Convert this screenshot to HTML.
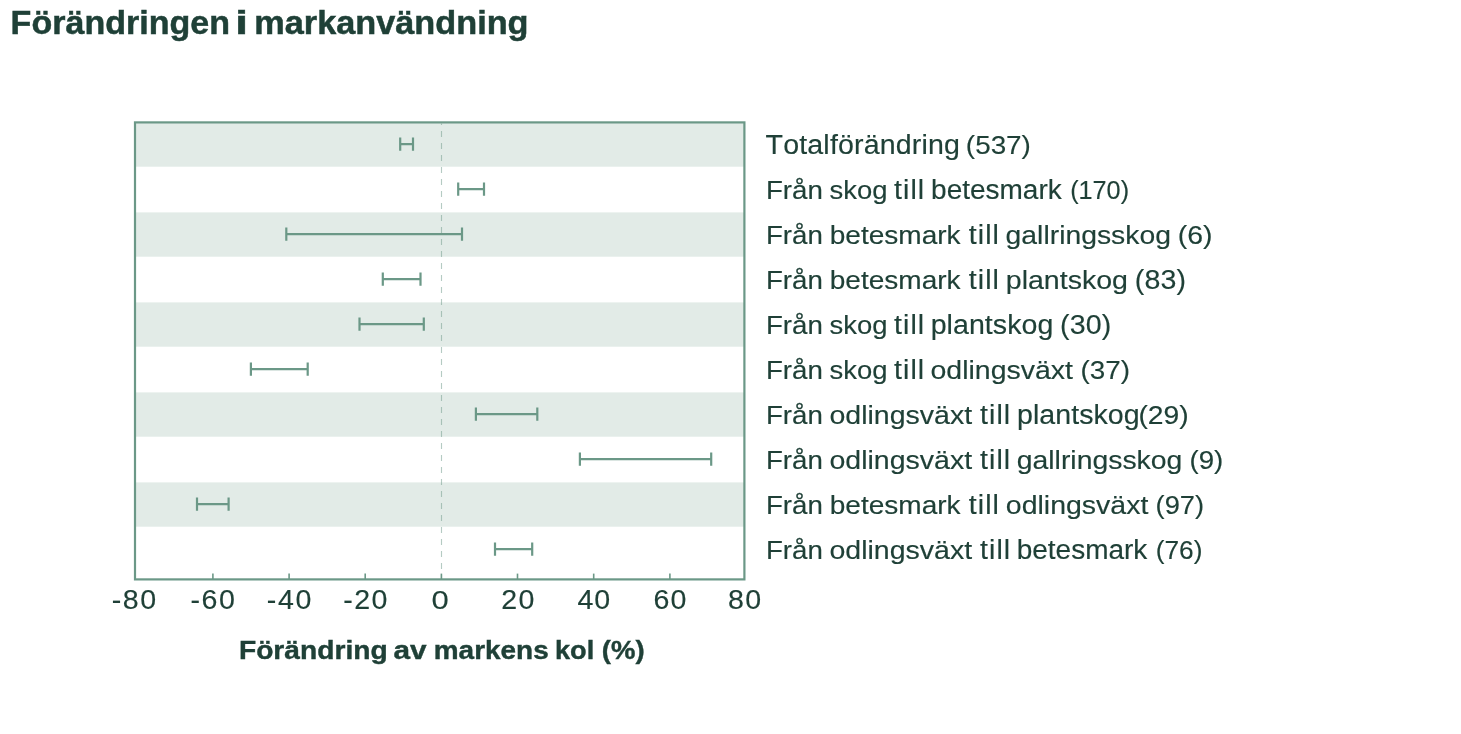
<!DOCTYPE html>
<html lang="sv"><head><meta charset="utf-8"><title>Förändringen i markanvändning</title>
<style>html,body{margin:0;padding:0;background:#fff}svg{display:block}text{font-family:"Liberation Sans",sans-serif;fill:#1f4037;font-kerning:none;white-space:pre}</style></head><body>
<svg width="1461" height="734" viewBox="0 0 1461 734">
<rect width="1461" height="734" fill="#fff"/>
<g>
<text transform="translate(10.62 33.8) scale(1.0042 1)" font-size="33.9" font-weight="700" stroke="#1f4037" stroke-width="0.5">Förändringen </text>
<text transform="translate(235.19 33.8) scale(1.3545 1)" font-size="33.9" font-weight="700" stroke="#1f4037" stroke-width="0.5">i </text>
<text transform="translate(254.34 33.8) scale(1.0110 1)" font-size="33.9" font-weight="700" stroke="#1f4037" stroke-width="0.5">markanvändning </text>
</g>
<rect x="135" y="122.4" width="609.5" height="44.3" fill="#e2ebe7"/>
<rect x="135" y="212.4" width="609.5" height="44.3" fill="#e2ebe7"/>
<rect x="135" y="302.4" width="609.5" height="44.3" fill="#e2ebe7"/>
<rect x="135" y="392.4" width="609.5" height="44.3" fill="#e2ebe7"/>
<rect x="135" y="482.4" width="609.5" height="44.3" fill="#e2ebe7"/>
<line x1="441.5" y1="123.5" x2="441.5" y2="578.5" stroke="#6b9887" stroke-opacity="0.5" stroke-width="1.1" stroke-dasharray="6 6" stroke-dashoffset="4.5"/>
<line x1="212.9" y1="573.6" x2="212.9" y2="579" stroke="#6b9887" stroke-width="1.6"/>
<line x1="289.1" y1="573.6" x2="289.1" y2="579" stroke="#6b9887" stroke-width="1.6"/>
<line x1="365.2" y1="573.6" x2="365.2" y2="579" stroke="#6b9887" stroke-width="1.6"/>
<line x1="441.4" y1="573.6" x2="441.4" y2="579" stroke="#6b9887" stroke-width="1.6"/>
<line x1="517.5" y1="573.6" x2="517.5" y2="579" stroke="#6b9887" stroke-width="1.6"/>
<line x1="593.7" y1="573.6" x2="593.7" y2="579" stroke="#6b9887" stroke-width="1.6"/>
<line x1="669.9" y1="573.6" x2="669.9" y2="579" stroke="#6b9887" stroke-width="1.6"/>
<rect x="135" y="122.4" width="609.4" height="457" fill="none" stroke="#6b9887" stroke-width="2.2"/>
<path d="M400.2 137.6V150.8M413.0 137.6V150.8M400.2 144.2H413.0" fill="none" stroke="#6b9887" stroke-width="2.2"/>
<path d="M458.2 182.6V195.8M484.0 182.6V195.8M458.2 189.2H484.0" fill="none" stroke="#6b9887" stroke-width="2.2"/>
<path d="M286.3 227.6V240.8M462.0 227.6V240.8M286.3 234.2H462.0" fill="none" stroke="#6b9887" stroke-width="2.2"/>
<path d="M382.8 272.6V285.8M420.5 272.6V285.8M382.8 279.2H420.5" fill="none" stroke="#6b9887" stroke-width="2.2"/>
<path d="M359.5 317.6V330.8M423.8 317.6V330.8M359.5 324.2H423.8" fill="none" stroke="#6b9887" stroke-width="2.2"/>
<path d="M250.9 362.6V375.8M307.7 362.6V375.8M250.9 369.2H307.7" fill="none" stroke="#6b9887" stroke-width="2.2"/>
<path d="M475.9 407.6V420.8M537.3 407.6V420.8M475.9 414.2H537.3" fill="none" stroke="#6b9887" stroke-width="2.2"/>
<path d="M579.9 452.6V465.8M711.2 452.6V465.8M579.9 459.2H711.2" fill="none" stroke="#6b9887" stroke-width="2.2"/>
<path d="M197.0 497.6V510.8M228.6 497.6V510.8M197.0 504.2H228.6" fill="none" stroke="#6b9887" stroke-width="2.2"/>
<path d="M495.0 542.6V555.8M532.2 542.6V555.8M495.0 549.2H532.2" fill="none" stroke="#6b9887" stroke-width="2.2"/>
<g>
<text transform="translate(765.56 154.1) scale(1.0700 1)" font-size="26.7" letter-spacing="0.155" stroke="#1f4037" stroke-width="0.15">Totalförändring </text>
<text transform="translate(965.87 154.1) scale(1.0437 1)" font-size="26.7" stroke="#1f4037" stroke-width="0.15">(537) </text>
</g>
<g>
<text transform="translate(765.93 199.1) scale(1.0378 1)" font-size="26.7" stroke="#1f4037" stroke-width="0.15">Från </text>
<text transform="translate(829.54 199.1) scale(1.0272 1)" font-size="26.7" stroke="#1f4037" stroke-width="0.15">skog </text>
<text transform="translate(893.97 199.1) scale(1.0700 1)" font-size="26.7" letter-spacing="1.017" stroke="#1f4037" stroke-width="0.15">till </text>
<text transform="translate(931.10 199.1) scale(1.0483 1)" font-size="26.7" stroke="#1f4037" stroke-width="0.15">betesmark </text>
<text transform="translate(1070.13 199.1) scale(0.9455 1)" font-size="26.7" stroke="#1f4037" stroke-width="0.15">(170) </text>
</g>
<g>
<text transform="translate(765.93 244.1) scale(1.0378 1)" font-size="26.7" stroke="#1f4037" stroke-width="0.15">Från </text>
<text transform="translate(829.69 244.1) scale(1.0507 1)" font-size="26.7" stroke="#1f4037" stroke-width="0.15">betesmark </text>
<text transform="translate(968.77 244.1) scale(1.0700 1)" font-size="26.7" letter-spacing="0.986" stroke="#1f4037" stroke-width="0.15">till </text>
<text transform="translate(1005.61 244.1) scale(1.0615 1)" font-size="26.7" stroke="#1f4037" stroke-width="0.15">gallringsskog </text>
<text transform="translate(1177.84 244.1) scale(1.0641 1)" font-size="26.7" stroke="#1f4037" stroke-width="0.15">(6) </text>
</g>
<g>
<text transform="translate(765.93 289.1) scale(1.0378 1)" font-size="26.7" stroke="#1f4037" stroke-width="0.15">Från </text>
<text transform="translate(829.69 289.1) scale(1.0507 1)" font-size="26.7" stroke="#1f4037" stroke-width="0.15">betesmark </text>
<text transform="translate(968.77 289.1) scale(1.0700 1)" font-size="26.7" letter-spacing="0.986" stroke="#1f4037" stroke-width="0.15">till </text>
<text transform="translate(1005.76 289.1) scale(1.0699 1)" font-size="26.7" stroke="#1f4037" stroke-width="0.15">plantskog </text>
<text transform="translate(1134.83 289.1) scale(1.0700 1)" font-size="26.7" letter-spacing="0.105" stroke="#1f4037" stroke-width="0.15">(83) </text>
</g>
<g>
<text transform="translate(765.93 334.1) scale(1.0378 1)" font-size="26.7" stroke="#1f4037" stroke-width="0.15">Från </text>
<text transform="translate(829.54 334.1) scale(1.0272 1)" font-size="26.7" stroke="#1f4037" stroke-width="0.15">skog </text>
<text transform="translate(893.97 334.1) scale(1.0700 1)" font-size="26.7" letter-spacing="1.017" stroke="#1f4037" stroke-width="0.15">till </text>
<text transform="translate(930.66 334.1) scale(1.0700 1)" font-size="26.7" letter-spacing="0.045" stroke="#1f4037" stroke-width="0.15">plantskog </text>
<text transform="translate(1060.03 334.1) scale(1.0700 1)" font-size="26.7" letter-spacing="0.105" stroke="#1f4037" stroke-width="0.15">(30) </text>
</g>
<g>
<text transform="translate(765.93 379.1) scale(1.0378 1)" font-size="26.7" stroke="#1f4037" stroke-width="0.15">Från </text>
<text transform="translate(829.54 379.1) scale(1.0272 1)" font-size="26.7" stroke="#1f4037" stroke-width="0.15">skog </text>
<text transform="translate(893.97 379.1) scale(1.0700 1)" font-size="26.7" letter-spacing="1.017" stroke="#1f4037" stroke-width="0.15">till </text>
<text transform="translate(930.50 379.1) scale(1.0668 1)" font-size="26.7" stroke="#1f4037" stroke-width="0.15">odlingsväxt </text>
<text transform="translate(1080.58 379.1) scale(1.0414 1)" font-size="26.7" stroke="#1f4037" stroke-width="0.15">(37) </text>
</g>
<g>
<text transform="translate(765.93 424.1) scale(1.0378 1)" font-size="26.7" stroke="#1f4037" stroke-width="0.15">Från </text>
<text transform="translate(829.40 424.1) scale(1.0691 1)" font-size="26.7" stroke="#1f4037" stroke-width="0.15">odlingsväxt </text>
<text transform="translate(980.07 424.1) scale(1.0700 1)" font-size="26.7" letter-spacing="0.986" stroke="#1f4037" stroke-width="0.15">till </text>
<text transform="translate(1016.96 424.1) scale(1.0700 1)" font-size="26.7" letter-spacing="0.057" stroke="#1f4037" stroke-width="0.15">plantskog </text>
<text transform="translate(1138.45 424.1) scale(1.0595 1)" font-size="26.7" stroke="#1f4037" stroke-width="0.15">(29) </text>
</g>
<g>
<text transform="translate(765.93 469.1) scale(1.0378 1)" font-size="26.7" stroke="#1f4037" stroke-width="0.15">Från </text>
<text transform="translate(829.40 469.1) scale(1.0691 1)" font-size="26.7" stroke="#1f4037" stroke-width="0.15">odlingsväxt </text>
<text transform="translate(980.07 469.1) scale(1.0700 1)" font-size="26.7" letter-spacing="0.986" stroke="#1f4037" stroke-width="0.15">till </text>
<text transform="translate(1016.71 469.1) scale(1.0635 1)" font-size="26.7" stroke="#1f4037" stroke-width="0.15">gallringsskog </text>
<text transform="translate(1189.48 469.1) scale(1.0368 1)" font-size="26.7" stroke="#1f4037" stroke-width="0.15">(9) </text>
</g>
<g>
<text transform="translate(765.93 514.1) scale(1.0378 1)" font-size="26.7" stroke="#1f4037" stroke-width="0.15">Från </text>
<text transform="translate(829.69 514.1) scale(1.0507 1)" font-size="26.7" stroke="#1f4037" stroke-width="0.15">betesmark </text>
<text transform="translate(968.77 514.1) scale(1.0700 1)" font-size="26.7" letter-spacing="0.986" stroke="#1f4037" stroke-width="0.15">till </text>
<text transform="translate(1005.80 514.1) scale(1.0676 1)" font-size="26.7" stroke="#1f4037" stroke-width="0.15">odlingsväxt </text>
<text transform="translate(1155.61 514.1) scale(1.0211 1)" font-size="26.7" stroke="#1f4037" stroke-width="0.15">(97) </text>
</g>
<g>
<text transform="translate(765.93 559.1) scale(1.0378 1)" font-size="26.7" stroke="#1f4037" stroke-width="0.15">Från </text>
<text transform="translate(829.40 559.1) scale(1.0691 1)" font-size="26.7" stroke="#1f4037" stroke-width="0.15">odlingsväxt </text>
<text transform="translate(980.07 559.1) scale(1.0700 1)" font-size="26.7" letter-spacing="0.986" stroke="#1f4037" stroke-width="0.15">till </text>
<text transform="translate(1016.70 559.1) scale(1.0483 1)" font-size="26.7" stroke="#1f4037" stroke-width="0.15">betesmark </text>
<text transform="translate(1155.67 559.1) scale(0.9848 1)" font-size="26.7" stroke="#1f4037" stroke-width="0.15">(76) </text>
</g>
<g>
<text transform="translate(111.83 608.6) scale(1.0700 1)" font-size="26.7" letter-spacing="1.399" stroke="#1f4037" stroke-width="0.15">-80 </text>
<text transform="translate(190.43 608.6) scale(1.0700 1)" font-size="26.7" letter-spacing="1.539" stroke="#1f4037" stroke-width="0.15">-60 </text>
<text transform="translate(266.63 608.6) scale(1.0700 1)" font-size="26.7" letter-spacing="1.633" stroke="#1f4037" stroke-width="0.15">-40 </text>
<text transform="translate(343.23 608.6) scale(1.0700 1)" font-size="26.7" letter-spacing="1.306" stroke="#1f4037" stroke-width="0.15">-20 </text>
<text transform="translate(431.49 608.6) scale(1.1596 1)" font-size="26.7" stroke="#1f4037" stroke-width="0.15">0 </text>
<text transform="translate(501.36 608.6) scale(1.0700 1)" font-size="26.7" letter-spacing="1.285" stroke="#1f4037" stroke-width="0.15">20 </text>
<text transform="translate(577.44 608.6) scale(1.0700 1)" font-size="26.7" letter-spacing="0.836" stroke="#1f4037" stroke-width="0.15">40 </text>
<text transform="translate(653.55 608.6) scale(1.0700 1)" font-size="26.7" letter-spacing="0.925" stroke="#1f4037" stroke-width="0.15">60 </text>
<text transform="translate(727.96 608.6) scale(1.0700 1)" font-size="26.7" letter-spacing="1.383" stroke="#1f4037" stroke-width="0.15">80 </text>
</g><g>
<text transform="translate(238.91 659.4) scale(1.0850 1)" font-size="26" font-weight="700" stroke="#1f4037" stroke-width="0.4">Förändring </text>
<text transform="translate(393.53 659.4) scale(1.1446 1)" font-size="26" font-weight="700" stroke="#1f4037" stroke-width="0.4">av </text>
<text transform="translate(433.76 659.4) scale(1.0751 1)" font-size="26" font-weight="700" stroke="#1f4037" stroke-width="0.4">markens </text>
<text transform="translate(555.00 659.4) scale(1.0440 1)" font-size="26" font-weight="700" stroke="#1f4037" stroke-width="0.4">kol </text>
<text transform="translate(601.83 659.4) scale(1.0570 1)" font-size="26" font-weight="700" stroke="#1f4037" stroke-width="0.4">(%) </text>
</g>
</svg></body></html>
